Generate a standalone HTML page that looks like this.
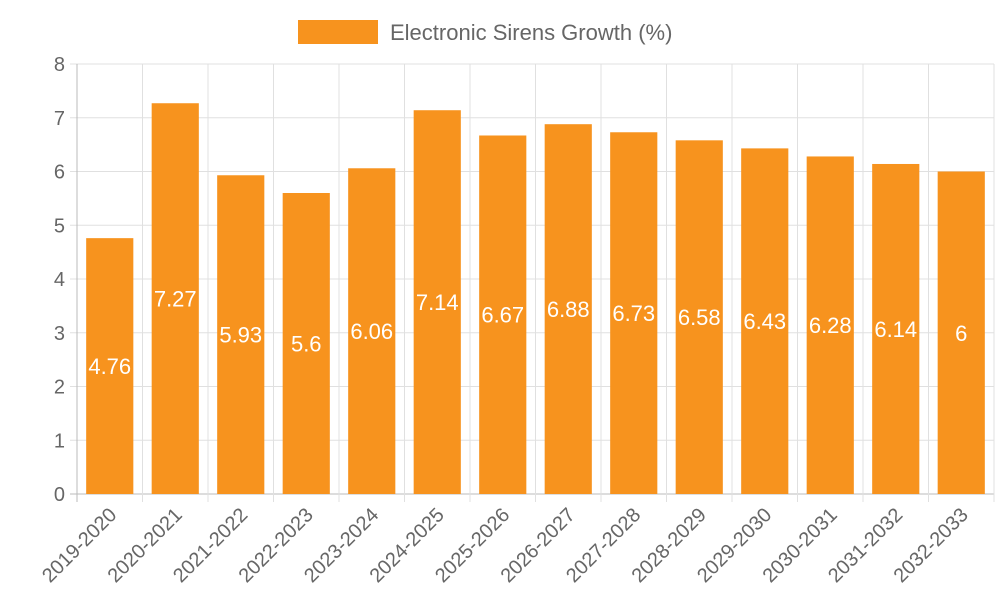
<!DOCTYPE html>
<html><head><meta charset="utf-8"><style>
body{margin:0;background:#fff;}
svg{display:block;font-family:"Liberation Sans",sans-serif;}
</style></head><body>
<svg id="chart" width="1000" height="600">
<g>
<rect x="298" y="20" width="80" height="24" fill="#f7931e"/>
<text x="390" y="40" font-size="22" fill="#666">Electronic Sirens Growth (%)</text>
</g>
<g id="grid"></g>
<g id="bars"></g>
<g id="axes"></g>
</svg>
<script>
const categories=["2019-2020","2020-2021","2021-2022","2022-2023","2023-2024","2024-2025","2025-2026","2026-2027","2027-2028","2028-2029","2029-2030","2030-2031","2031-2032","2032-2033"];
const values=[4.76,7.27,5.93,5.6,6.06,7.14,6.67,6.88,6.73,6.58,6.43,6.28,6.14,6];
const labels=["4.76","7.27","5.93","5.6","6.06","7.14","6.67","6.88","6.73","6.58","6.43","6.28","6.14","6"];
const yTicks=[0,1,2,3,4,5,6,7,8];
const NS="http://www.w3.org/2000/svg";
const L=77,R=994,T=64,B=494,yMax=8;
const band=(R-L)/categories.length;
const y=v=>B-(v/yMax)*(B-T);
const x=i=>L+i*band;
function mk(tag,attrs,parent){const e=document.createElementNS(NS,tag);for(const k in attrs)e.setAttribute(k,attrs[k]);parent.appendChild(e);return e;}
const grid=document.getElementById('grid'),bars=document.getElementById('bars'),axes=document.getElementById('axes');
yTicks.forEach(t=>{
  const ln=mk('line',{x1:L-7,x2:R,y1:y(t),y2:y(t),stroke:t===0?'#bbb':'#e0e0e0','stroke-width':1},grid);
  
  
  const tx=mk('text',{x:L-12,y:y(t)+7,'text-anchor':'end','font-size':20,fill:'#666'},axes);
  tx.textContent=t;
  
  
});
for(let i=0;i<=categories.length;i++){
  const ln=mk('line',{x1:x(i),x2:x(i),y1:T,y2:B+8,stroke:i===0?'#bbb':'#e0e0e0','stroke-width':1},grid);
  
  
}
const bw=band*0.72;
categories.forEach((c,i)=>{
  const cx=x(i)+band/2;
  const r=mk('rect',{x:cx-bw/2,y:y(values[i]),width:bw,height:B-y(values[i]),fill:'#f7931e'},bars);
  
  
  const v=mk('text',{x:cx,y:(y(values[i])+B)/2+8,'text-anchor':'middle','font-size':22,fill:'#fff'},bars);
  v.textContent=labels[i];
  
  
  const t=mk('text',{x:cx+8,y:B+22,'text-anchor':'end','font-size':20,fill:'#666',transform:`rotate(-45 ${cx+8} ${B+22})`},axes);
  t.textContent=c;
  
  
});
</script>
</body></html>
